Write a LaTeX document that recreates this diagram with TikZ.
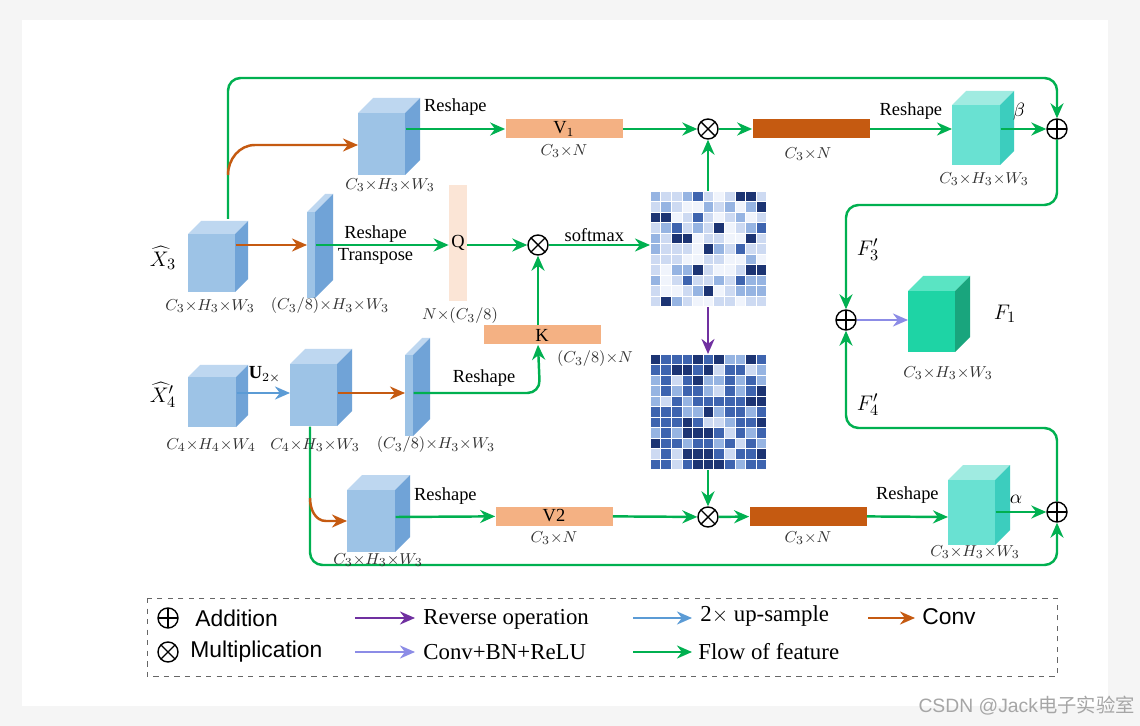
\documentclass[tikz,border=0pt]{standalone}
\usepackage{fontspec}
\setmainfont{Liberation Serif}
\newfontfamily\cjk{Noto Sans CJK SC}
\newfontfamily\sansf{Liberation Sans}
\usetikzlibrary{arrows.meta,calc}
\definecolor{gr}{RGB}{0,176,80}
\definecolor{orn}{RGB}{197,90,17}
\definecolor{upb}{RGB}{91,155,213}
\definecolor{pur}{RGB}{112,48,160}
\definecolor{lav}{RGB}{140,140,230}
\definecolor{cbF}{RGB}{157,195,230}
\definecolor{cbT}{RGB}{190,215,240}
\definecolor{cbS}{RGB}{112,163,215}
\definecolor{tlF}{RGB}{105,225,210}
\definecolor{tlT}{RGB}{160,235,225}
\definecolor{tlS}{RGB}{60,205,190}
\definecolor{fF}{RGB}{30,212,165}
\definecolor{fT}{RGB}{90,228,195}
\definecolor{fS}{RGB}{25,165,125}
\definecolor{pk}{RGB}{244,177,131}
\definecolor{lpk}{RGB}{251,229,214}
\definecolor{dor}{RGB}{197,90,17}
\definecolor{m0}{RGB}{240,244,252}
\definecolor{m1}{RGB}{205,218,242}
\definecolor{m2}{RGB}{150,180,226}
\definecolor{m3}{RGB}{62,100,175}
\definecolor{m4}{RGB}{28,52,115}
\newcommand\mycube[9]{%
\fill[#8] (#2,#3) -- ++(#6,-#6) -- ++(#4,0) -- ++(-#6,#6) -- cycle;
\fill[#9] (#2+#4,#3) -- ++(#6,-#6) -- ++(0,#5) -- ++(-#6,#6) -- cycle;
\node[fill=#7,inner sep=0,minimum width=#4*0.02cm,minimum height=#5*0.02cm,anchor=north west] (#1) at (#2,#3) {};}
\newcommand\mymatrix[4]{% x y list name
\foreach \i in {0,...,10}{\foreach \j in {0,...,10}{
\pgfmathrandominteger{\r}{0}{8}
\pgfmathtruncatemacro{\c}{{#3}[\r]}
\fill[m\c,draw=white,line width=0.3pt] (#1+\i*10.6,#2+\j*10.5) rectangle ++(10.6,10.5);}}
\node[inner sep=0,minimum width=116.6*0.02cm,minimum height=115.5*0.02cm,anchor=north west] (#4) at (#1,#2) {};}
\newcommand\dd[1]{$\mathsurround=0pt #1$}
\begin{document}
\begin{tikzpicture}[x=0.02cm,y=-0.02cm,
 tip/.style={-{Stealth[length=0.3cm,width=0.26cm]}},
 fl/.style={gr,line width=1.4pt,tip,rounded corners=0.25cm},
 cv/.style={orn,line width=1.4pt,tip},
 lb/.style={font=\fontsize{10.5}{12}\selectfont,inner sep=1pt,text=black},
 dm/.style={font=\fontsize{9.5}{11}\selectfont,inner sep=0pt,text=black!80},
 bar/.style={inner sep=0,minimum height=19*0.02cm,font=\fontsize{10.5}{12}\selectfont},
 op/.style={circle,draw,line width=0.8pt,minimum size=20*0.02cm,inner sep=0,
   path picture={\draw[line width=0.8pt] (path picture bounding box.north)--(path picture bounding box.south) (path picture bounding box.west)--(path picture bounding box.east);}},
 ot/.style={circle,draw,line width=0.8pt,minimum size=20*0.02cm,inner sep=0,
   path picture={\draw[line width=0.8pt] (path picture bounding box.north west)--(path picture bounding box.south east) (path picture bounding box.south west)--(path picture bounding box.north east);}},
 lg/.style={line width=1.4pt,tip},
 lt/.style={anchor=west,font=\fontsize{13}{15}\selectfont,inner sep=0}]
\useasboundingbox (0,0) rectangle (1140,726);
\fill[black!4] (0,0) rectangle (1140,726);
\fill[white] (22,20) rectangle (1108,706);
% cubes
\mycube{x3}{188}{234}{47}{58}{13}{cbF}{cbT}{cbS}
\mycube{s1}{307}{212}{8}{86}{18}{cbF}{cbT}{cbS}
\mycube{c1}{358}{113}{47}{62}{15}{cbF}{cbT}{cbS}
\mycube{x4}{188}{377}{48}{50}{12}{cbF}{cbT}{cbS}
\mycube{u}{290}{364}{47}{62}{15}{cbF}{cbT}{cbS}
\mycube{s2}{405}{355}{8}{81}{17}{cbF}{cbT}{cbS}
\mycube{c2}{347}{490}{48}{62}{15}{cbF}{cbT}{cbS}
\mycube{t1}{952}{105}{48}{60}{14}{tlF}{tlT}{tlS}
\mycube{t2}{948}{480}{47}{65}{15}{tlF}{tlT}{tlS}
\mycube{f1}{908}{291}{47}{61}{15}{fF}{fT}{fS}
% bars
\node[bar,fill=lpk,minimum width=18*0.02cm,minimum height=116*0.02cm] (q) at (458,243) {Q};
\node[bar,fill=pk,minimum width=117*0.02cm] (k) at (542,335) {K};
\node[bar,fill=pk,minimum width=117*0.02cm] (v1) at (564,129) {V$_1$};
\node[bar,fill=pk,minimum width=117*0.02cm] (v2) at (554,516) {V2};
\node[bar,fill=dor,minimum width=117*0.02cm] (d1) at (811,129) {};
\node[bar,fill=dor,minimum width=117*0.02cm] (d2) at (808,516) {};
% matrices
\pgfmathsetseed{7}
\mymatrix{650}{191}{0,0,1,1,1,2,2,3,4}{mA}
\mymatrix{650}{354}{1,2,2,3,3,3,4,4,3}{mB}
% ops
\node[ot] (o1) at (538,245) {};
\node[ot] (o2) at (708,129) {};
\node[ot] (o3) at (708,517) {};
\node[op] (p1) at (1057,129) {};
\node[op] (p2) at (1057,512) {};
\node[op] (p3) at (846,320) {};
% flows
\draw[fl] (228,219) -- (228,78) -- (1057,78) -- (p1.north);
\draw[cv] (228,175) to[out=90,in=180] (255,145) -- (c1.west |- 0,145);
\draw[cv] (x3.east |- 0,245) -- (s1.west |- 0,245);
\draw[fl] (s1.east |- 0,245) -- (q.west |- 0,245) node[pos=0.45,above,lb]{Reshape} node[pos=0.45,below,lb]{Transpose};
\draw[fl] (q.east |- 0,245) -- (o1);
\draw[fl] (k.north -| o1) -- (o1);
\draw[fl] (s2.east |- 0,393) -- (540,393) -- (k.south -| o1);
\node[lb] at (484,378) {Reshape};
\draw[upb,line width=1.4pt,tip] (x4.east |- 0,393) -- (u.west |- 0,393);
\node[font=\bfseries\fontsize{10.5}{12}\selectfont] at (265,375) {U$_{2\times}$};
\draw[cv] (u.east |- 0,393) -- (s2.west |- 0,393);
\draw[fl] (c1.east |- 0,129) -- (v1) node[pos=0.5,above=6pt,lb]{Reshape};
\draw[fl] (v1) -- (o2);
\draw[fl] (o2) -- (d1);
\draw[fl] (d1) -- (t1.west |- 0,129) node[pos=0.5,above=4pt,lb]{Reshape};
\draw[fl] (t1.east |- 0,129) -- (p1) node[pos=0.4,above=3pt,lb]{$\beta$};
\draw[fl] (o1) -- (mA.west |- o1) node[pos=0.45,above,lb]{softmax};
\draw[fl] (mA.north -| o2) -- (o2);
\draw[pur,line width=1.4pt,tip] (mA.south -| o2) -- (mB.north -| o2);
\draw[fl] (mB.south -| o3) -- (o3);
\draw[fl] (p1.south) -- (1057,205) -- (846,205) -- (p3.north);
\draw[fl] (p2.north) -- (1057,428) -- (846,428) -- (p3.south);
\draw[lav,line width=1.4pt,tip] (p3) -- (f1.west |- p3);
\draw[fl] (u.south -| 310,0) -- (310,565) -- (1057,565) -- (p2.south);
\draw[cv] (310,498) to[out=-90,in=180] (326,521) -- (c2.west |- 0,521);
\draw[fl] (c2.east |- 0,517) -- (v2) node[pos=0.5,above=5pt,lb]{Reshape};
\draw[fl] (v2) -- (o3);
\draw[fl] (o3) -- (d2);
\draw[fl] (d2) -- (t2.west |- 0,517) node[pos=0.5,above=6pt,lb]{Reshape};
\draw[fl] (t2.east |- 0,512) -- (p2) node[pos=0.4,above=3pt,lb]{$\alpha$};
% dims
\node[dm] at (210,306) {\dd{C_3{\times}H_3{\times}W_3}};
\node[dm] at (330,306) {\dd{(C_3/8){\times}H_3{\times}W_3}};
\node[dm] at (390,185) {\dd{C_3{\times}H_3{\times}W_3}};
\node[dm] at (564,151) {\dd{C_3{\times}N}};
\node[dm] at (460,316) {\dd{N{\times}(C_3/8)}};
\node[dm] at (595,359) {\dd{(C_3/8){\times}N}};
\node[dm] at (211,445) {\dd{C_4{\times}H_4{\times}W_4}};
\node[dm] at (315,445) {\dd{C_4{\times}H_3{\times}W_3}};
\node[dm] at (436,445) {\dd{(C_3/8){\times}H_3{\times}W_3}};
\node[dm] at (378,560) {\dd{C_3{\times}H_3{\times}W_3}};
\node[dm] at (554,538) {\dd{C_3{\times}N}};
\node[dm] at (808,154) {\dd{C_3{\times}N}};
\node[dm] at (808,538) {\dd{C_3{\times}N}};
\node[dm] at (984,179) {\dd{C_3{\times}H_3{\times}W_3}};
\node[dm] at (948,373) {\dd{C_3{\times}H_3{\times}W_3}};
\node[dm] at (975,552) {\dd{C_3{\times}H_3{\times}W_3}};
\node[font=\fontsize{13}{15}\selectfont,inner sep=0] at (163,258) {$\widehat{X}_3$};
\node[font=\fontsize{13}{15}\selectfont,inner sep=0] at (163,395) {$\widehat{X}'_4$};
\node[font=\fontsize{13}{15}\selectfont] at (868,250) {$F'_3$};
\node[font=\fontsize{13}{15}\selectfont] at (868,405) {$F'_4$};
\node[font=\fontsize{13}{15}\selectfont] at (1005,314) {$F_1$};
% legend
\draw[dashed,black!60] (147,598) rectangle (1057,676);
\node[op] (la) at (168,618) {};
\node[ot] (lm) at (168,652) {};
\node[lt,font=\sansf\fontsize{13}{15}\selectfont] at (195,618) {Addition};
\node[lt,font=\sansf\fontsize{13}{15}\selectfont] at (190,652) {Multiplication};
\coordinate (a1) at (355,618); \coordinate (a1e) at (415,618);
\draw[lg,pur] (a1) -- (a1e); \node[lt] at (423,619) {Reverse operation};
\coordinate (a2) at (355,652); \coordinate (a2e) at (415,652);
\draw[lg,lav] (a2) -- (a2e); \node[lt] at (423,652) {Conv+BN+ReLU};
\coordinate (a3) at (633,618); \coordinate (a3e) at (692,618);
\draw[lg,upb] (a3) -- (a3e); \node[lt] at (700,616) {2$\times$ up-sample};
\coordinate (a4) at (633,652); \coordinate (a4e) at (692,652);
\draw[lg,gr] (a4) -- (a4e); \node[lt] at (698,652) {Flow of feature};
\coordinate (a5) at (868,618); \coordinate (a5e) at (915,618);
\draw[lg,orn] (a5) -- (a5e); \node[lt,font=\sansf\fontsize{13}{15}\selectfont] at (922,617) {Conv};
\node[text=black!35,font=\sansf\fontsize{11}{13}\selectfont,anchor=east,inner sep=0] at (1135,706) {CSDN @Jack{\cjk 电子实验室}};
\end{tikzpicture}
\end{document}
